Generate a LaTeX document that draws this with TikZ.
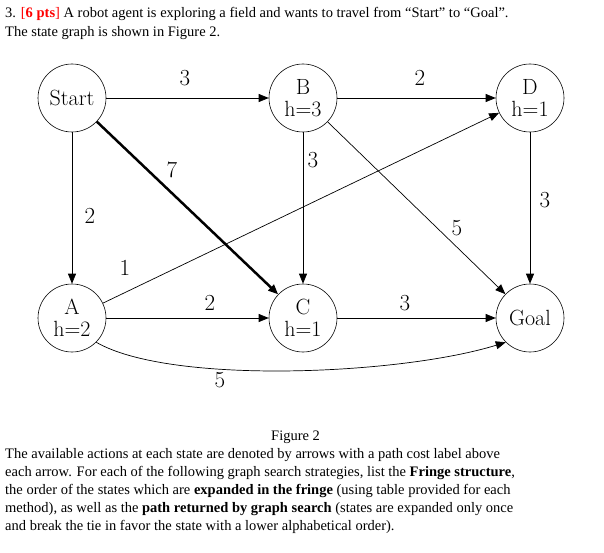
\documentclass[tikz,border=0pt]{standalone}
\usepackage{fontspec}
\newfontfamily\tms{Liberation Serif}
\usetikzlibrary{arrows.meta}
\begin{document}
\begin{tikzpicture}[x=1pt,y=-1pt,
  st/.style={circle,draw,line width=0.6pt,minimum size=68pt,inner sep=0pt,align=center,font=\fontsize{22}{22}\selectfont},
  ed/.style={-{Triangle[length=10pt,width=8pt]},line width=0.7pt},
  lb/.style={font=\fontsize{23}{23}\selectfont},
  tx/.style={anchor=base west,inner sep=0pt,font=\tms\fontsize{14.5}{16}\selectfont}]
\useasboundingbox (0,0) rectangle (604,553);
\node[tx] (t1) at (5,18) {3. {\color{red}[\textbf{6 pts}]} A robot agent is exploring a field and wants to travel from “Start” to “Goal”.};
\node[tx] (t2) at (5,37) {The state graph is shown in Figure 2.};
\node[st] (S) at (72,98) {Start};
\node[st] (B) at (303,98) {B\\[0pt]h=3};
\node[st] (D) at (530,98) {D\\[0pt]h=1};
\node[st] (A) at (72,318) {A\\[0pt]h=2};
\node[st] (C) at (303,318) {C\\[0pt]h=1};
\node[st] (G) at (530,318) {Goal};
\draw[ed] (S) -- (B);
\draw[ed,line width=2.5pt] (S) -- (C);
\draw[ed] (S) -- (A);
\draw[ed] (B) -- (D);
\draw[ed] (B) -- (C);
\draw[ed] (B) -- (G);
\draw[ed] (D) -- (G);
\draw[ed] (A) -- (D);
\draw[ed] (A) -- (C);
\draw[ed] (C) -- (G);
\draw[ed] (A.south east) .. controls (170,385) and (400,375) .. (G.south west);
\node[lb] (l1) at (185,78) {3};
\node[lb] (l2) at (172,170) {7};
\node[lb] (l3) at (90,216) {2};
\node[lb] (l4) at (420,78) {2};
\node[lb] (l5) at (313,160) {3};
\node[lb] (l6) at (457,228) {5};
\node[lb] (l7) at (545,200) {3};
\node[lb] (l8) at (125,268) {1};
\node[lb] (l9) at (210,303) {2};
\node[lb] (l10) at (405,303) {3};
\node[lb] (l11) at (220,380) {5};
\node[tx] (f) at (271,440) {Figure 2};
\node[tx] (p1) at (5,458) {The available actions at each state are denoted by arrows with a path cost label above};
\node[tx] (p2) at (5,476) {each arrow. For each of the following graph search strategies, list the \textbf{Fringe structure},};
\node[tx] (p3) at (5,494) {the order of the states which are \textbf{expanded in the fringe} (using table provided for each};
\node[tx] (p4) at (5,512) {method), as well as the \textbf{path returned by graph search} (states are expanded only once};
\node[tx] (p5) at (5,530) {and break the tie in favor the state with a lower alphabetical order).};
\end{tikzpicture}
\end{document}
